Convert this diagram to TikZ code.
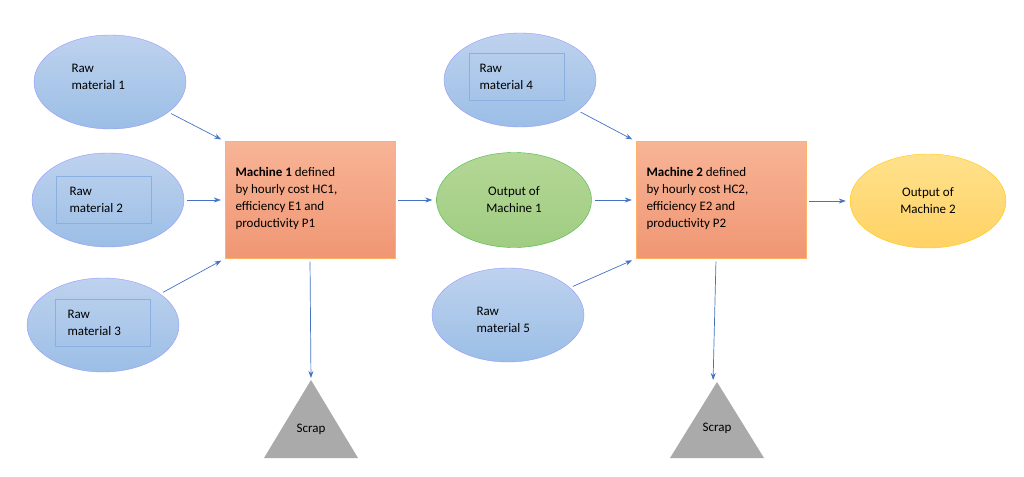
\documentclass[tikz,border=0pt]{standalone}
\usepackage{fontspec}
\setmainfont{Carlito}
\usetikzlibrary{shapes.geometric,arrows.meta}
\definecolor{arr}{RGB}{68,114,196}
\tikzset{
 raw/.style={ellipse,draw=blue!40!white,top color={rgb,255:red,190;green,210;blue,238},bottom color={rgb,255:red,155;green,190;blue,230},minimum width=152pt,minimum height=94pt},
 mach/.style={draw=orange!60!white,top color={rgb,255:red,247;green,180;blue,150},bottom color={rgb,255:red,240;green,150;blue,115},minimum width=170pt,minimum height=117pt,align=left,text width=150pt},
 inner/.style={draw={rgb,255:red,140;green,175;blue,225},minimum width=95pt,minimum height=47pt},
 scrap/.style={fill={rgb,255:red,170;green,170;blue,170}},
 con/.style={draw=arr,-{Stealth[length=7pt,width=5pt]},line width=0.7pt,shorten >=4pt,shorten <=3pt},
 lab/.style={align=left,font=\fontsize{13}{17}\selectfont}
}
\begin{document}
\begin{tikzpicture}[x=1pt,y=-1pt]
\useasboundingbox[fill=white] (0,0) rectangle (1024,476);
\node[raw] (r1) at (110,82) {};
\node[lab,anchor=west] at (68,77) {Raw\\material 1};
\node[raw] (r2) at (108,200) {};
\node[inner] at (104,200) {};
\node[lab,anchor=west] at (66,200) {Raw\\material 2};
\node[raw] (r3) at (103,325) {};
\node[inner] at (103,323) {};
\node[lab,anchor=west] at (64,323) {Raw\\material 3};
\node[raw] (r4) at (520,80) {};
\node[inner] at (517,77) {};
\node[lab,anchor=west] at (476,77) {Raw\\material 4};
\node[raw,minimum width=155pt,minimum height=95pt,top color={rgb,255:red,180;green,215;blue,150},bottom color={rgb,255:red,160;green,205;blue,130},draw=green!45!gray] (o1) at (514,200) {};
\node[lab,align=center] at (514,200) {Output of\\Machine 1};
\node[raw] (r5) at (508,315) {};
\node[lab,anchor=west] at (473,320) {Raw\\material 5};
\node[raw,minimum width=156pt,minimum height=94pt,top color={rgb,255:red,255;green,225;blue,140},bottom color={rgb,255:red,255;green,210;blue,100},draw=orange!40!yellow] (o2) at (928,201) {};
\node[lab,align=center] at (928,201) {Output of\\Machine 2};
\node[mach] (m1) at (310,200) {};
\node[lab,anchor=west] at (232,198) {\textbf{Machine 1} defined\\by hourly cost HC1,\\efficiency E1 and\\productivity P1};
\node[mach] (m2) at (721,200) {};
\node[lab,anchor=west] at (643,198) {\textbf{Machine 2} defined\\by hourly cost HC2,\\efficiency E2 and\\productivity P2};
\fill[scrap] (311,380) -- (358,458) -- (264,458) -- cycle;
\node[lab] (s1) at (311,429) {Scrap};
\coordinate (s1t) at (311,382);
\fill[scrap] (717,382) -- (764,458) -- (670,458) -- cycle;
\node[lab] (s2) at (717,428) {Scrap};
\coordinate (s2t) at (717,384);
\draw[con] (r1) -- (m1.north west);
\draw[con] (r2) -- (m1.west |- r2);
\draw[con] (r3) -- (m1.south west);
\draw[con] (m1.east |- o1) -- (o1);
\draw[con] (r4) -- (m2.north west);
\draw[con] (o1) -- (m2.west |- o1);
\draw[con] (r5) -- (m2.south west);
\draw[con] (m2.east |- o2) -- (o2);
\draw[con] (m1.south) -- (s1t);
\draw[con] ([xshift=-5pt]m2.south) -- ([xshift=-4pt]s2t);
\end{tikzpicture}
\end{document}
